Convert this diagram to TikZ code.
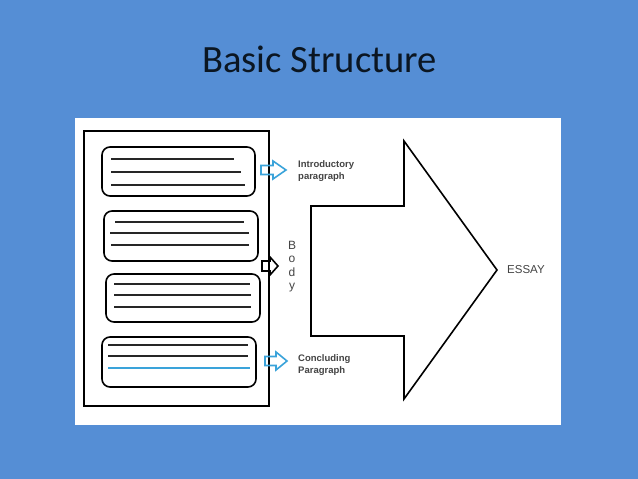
\documentclass[tikz,border=0pt]{standalone}
\usepackage{fontspec}
\setmainfont{Carlito}
\newfontfamily\arialf{Liberation Sans}
\definecolor{slidebg}{HTML}{558ED5}
\definecolor{arrowblue}{HTML}{3AA3DA}
\definecolor{labelgray}{HTML}{444444}
\definecolor{titleink}{HTML}{0B1622}
\tikzset{
  pagebox/.style={draw=black, line width=1.8pt},
  parabox/.style={draw=black, line width=1.6pt, rounded corners=8pt},
  textline/.style={draw=black!85, line width=1.5pt},
  bluearrow/.style={draw=arrowblue, line width=1.6pt, line join=miter},
  blackarrow/.style={draw=black, line width=1.6pt, line join=miter},
  biglabel/.style={font=\arialf\bfseries\fontsize{9.5}{12}\selectfont, text=labelgray, align=left, anchor=west, inner sep=0pt},
  bodylabel/.style={font=\arialf\fontsize{12}{12}\selectfont, text=labelgray, inner sep=0pt, anchor=base},
}
\begin{document}
\begin{tikzpicture}[x=1pt,y=-1pt]
\useasboundingbox (0,0) rectangle (638,479);
\fill[slidebg] (0,0) rectangle (638,479);
\fill[white] (75,118) rectangle (561,425);
\node[font=\fontsize{38.6}{44}\selectfont, text=titleink, anchor=base, inner sep=0pt] (title) at (319.5,72) {Basic Structure};
% page
\draw[pagebox] (84,131) rectangle (269,406);
% paragraph boxes
\draw[parabox] (102,147) rectangle (255,196);
\draw[textline] (111,159) -- (234,159);
\draw[textline] (111,172) -- (241,172);
\draw[textline] (111,185) -- (245,185);
\draw[parabox] (104,211) rectangle (258,261);
\draw[textline] (115,222) -- (244,222);
\draw[textline] (110,233) -- (249,233);
\draw[textline] (111,245) -- (249,245);
\draw[parabox] (106,274) rectangle (260,322);
\draw[textline] (114,284) -- (250,284);
\draw[textline] (114,295) -- (251,295);
\draw[textline] (114,307) -- (251,307);
\draw[parabox] (102,337) rectangle (256,387);
\draw[textline] (108,345) -- (248,345);
\draw[textline] (108,356) -- (248,356);
\draw[draw=arrowblue, line width=1.6pt] (108,368) -- (250,368);
% small arrows
\draw[bluearrow] (261,165.5) -- (273,165.5) -- (273,161) -- (286,170) -- (273,179) -- (273,174.5) -- (261,174.5) -- cycle;
\draw[blackarrow] (262,261) -- (270,261) -- (270,257) -- (278,266) -- (270,275) -- (270,271) -- (262,271) -- cycle;
\draw[bluearrow] (265,356.5) -- (276,356.5) -- (276,352) -- (287,361) -- (276,370) -- (276,365.5) -- (265,365.5) -- cycle;
% labels
\node[biglabel] (intro) at (298,171) {Introductory\\paragraph};
\node[biglabel] (concl) at (298,365) {Concluding\\Paragraph};
\node[bodylabel] (b) at (292,249) {B};
\node[bodylabel] (o) at (292,262.5) {o};
\node[bodylabel] (d) at (292,276) {d};
\node[bodylabel] (y) at (292,289.5) {y};
% big arrow
\draw[black, line width=1.6pt, line join=miter] (311,206) -- (404,206) -- (404,141) -- (497,270) -- (404,399) -- (404,336) -- (311,336) -- cycle;
\node[font=\arialf\fontsize{11.5}{12}\selectfont, text=labelgray, anchor=west, inner sep=0pt] (essay) at (507,270) {ESSAY};
\end{tikzpicture}
\end{document}
